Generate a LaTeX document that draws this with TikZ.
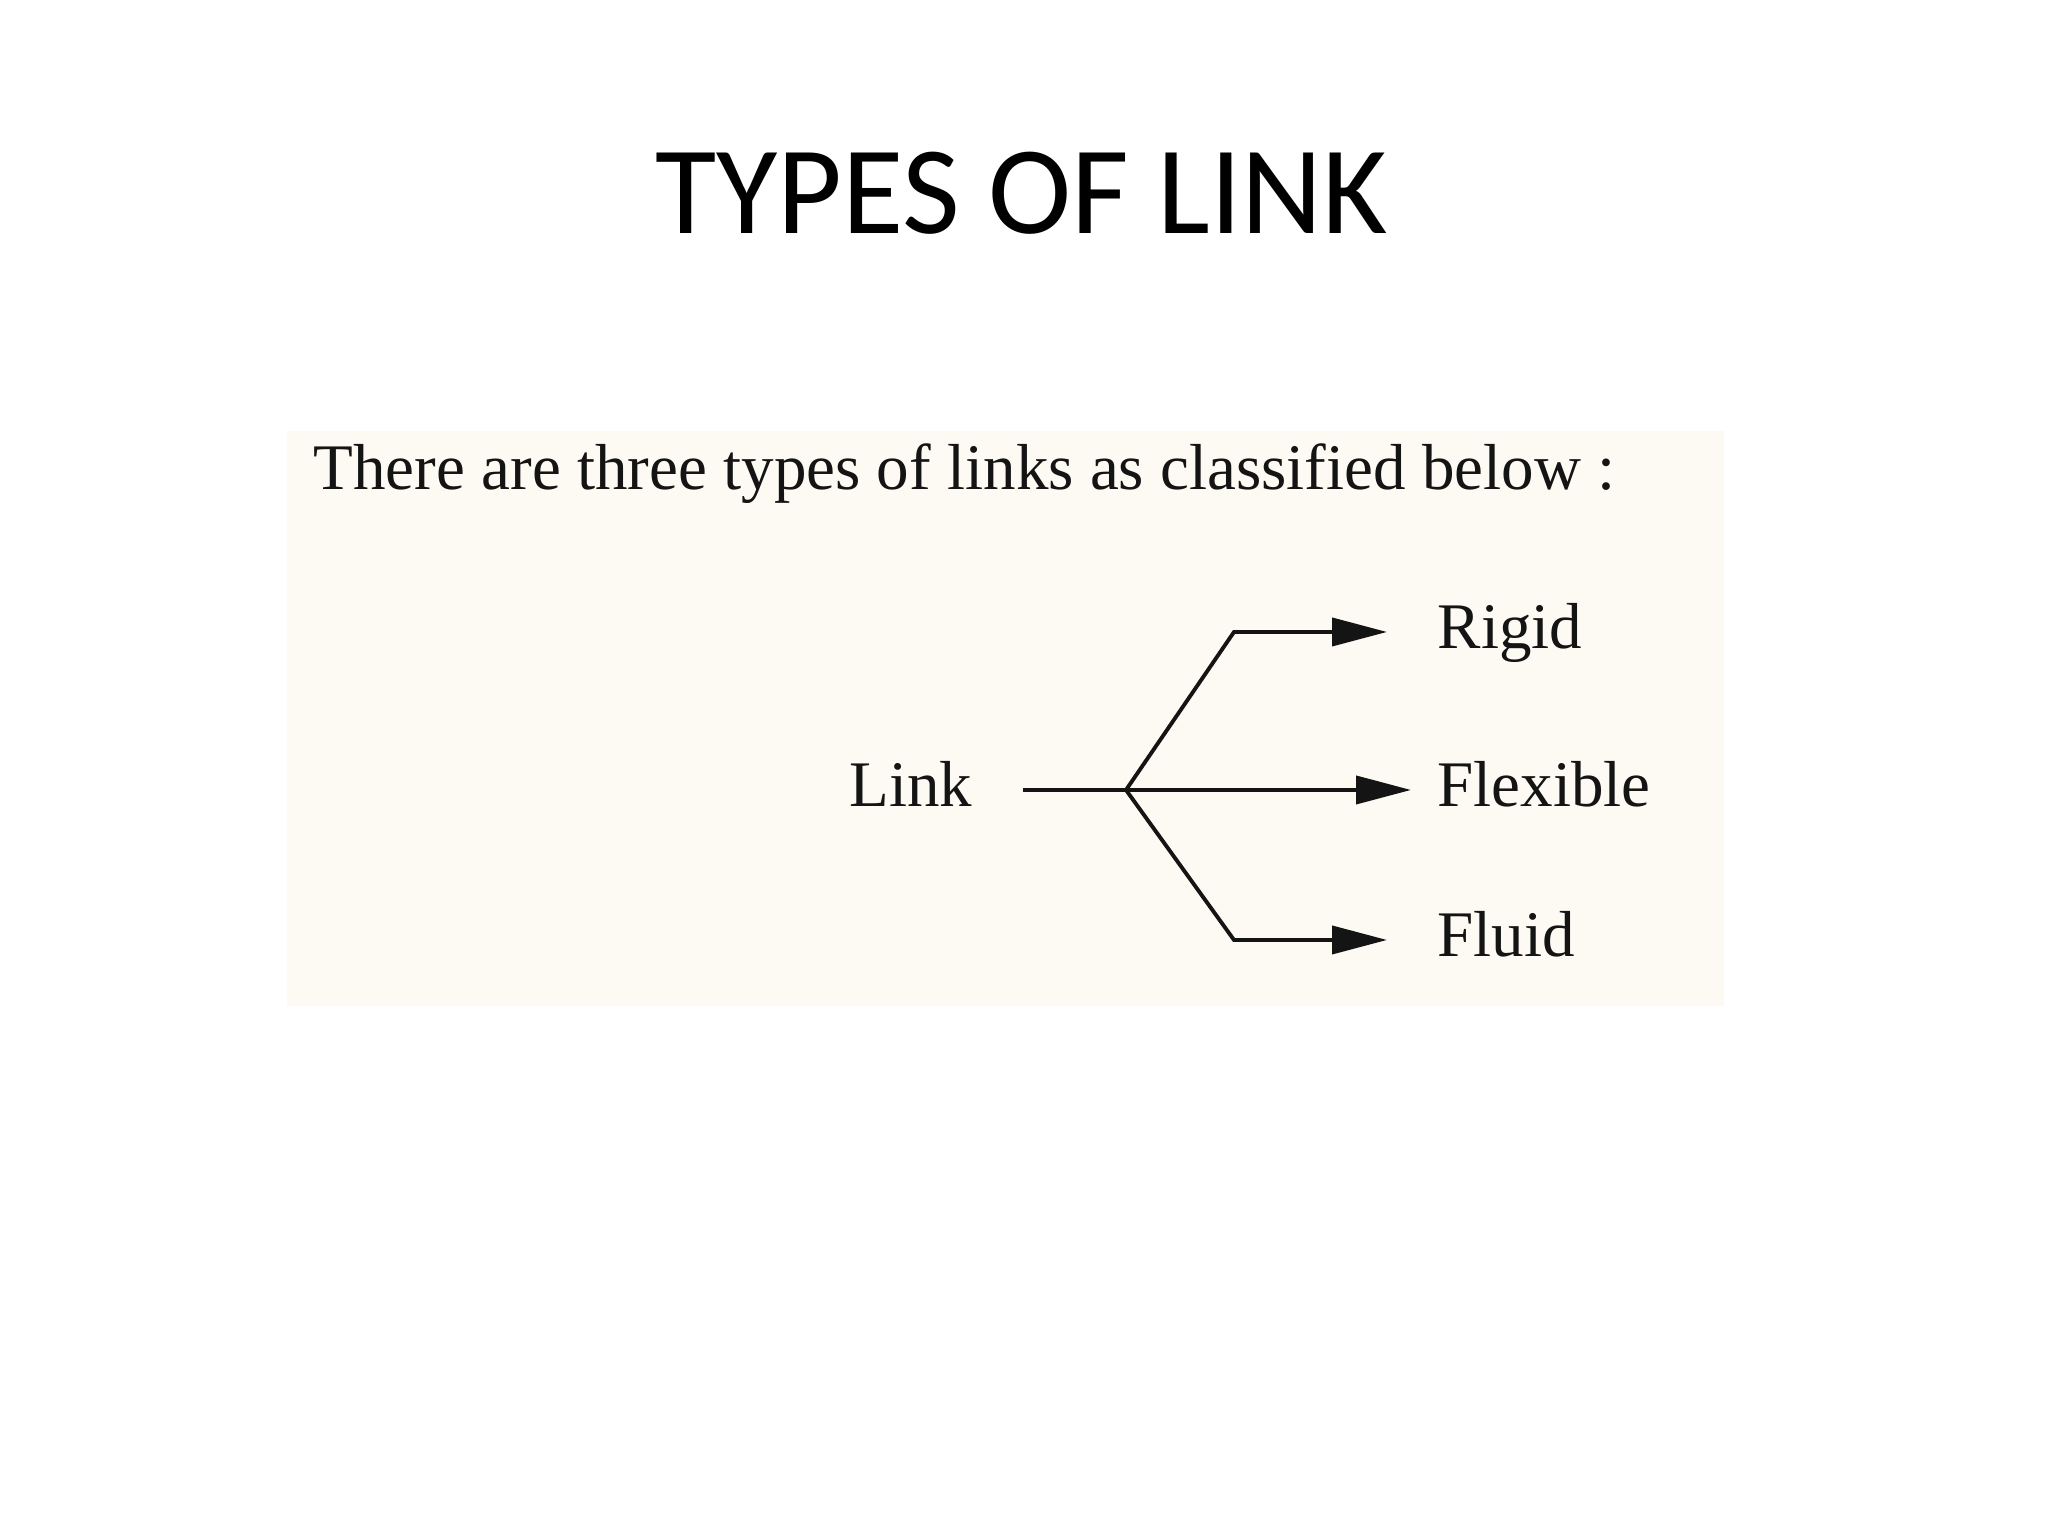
\documentclass[tikz,border=0pt]{standalone}
\usepackage{fontspec}
\setmainfont{Liberation Serif}
\newfontfamily\slidefont{Carlito}
\usetikzlibrary{positioning,arrows.meta}
\definecolor{pcream}{RGB}{252,250,242}
\definecolor{pink}{RGB}{20,20,20}

\begin{document}
\begin{tikzpicture}[
    kind/.style={inner sep=0pt, text=pink, font=\fontsize{18.5}{22}\selectfont},
    branch/.style={line width=1.1pt, draw=pink, -{Triangle[length=5.5mm,width=2.8mm]}}
]
    \useasboundingbox[fill=white] (0,0) rectangle (20.48,15.36);
    \fill[pcream] (2.87,5.30) rectangle (17.24,11.05);

    \node[font=\slidefont\fontsize{35.7}{42}\selectfont] (title) at (10.22,13.43) {TYPES OF LINK};
    \node[anchor=base west, inner sep=0pt, text=pink, font=\fontsize{18.5}{23}\selectfont] (intro) at (3.13,10.46)
        {There are three types of links as classified below :};

    \node[kind, anchor=mid east] (link) at (9.73,7.38) {Link};
    \node[kind, anchor=mid west] (flexible) at (14.37,7.38) {Flexible};
    \node[kind, anchor=mid west] (rigid) at (14.37,8.96) {Rigid};
    \node[kind, anchor=mid west] (fluid) at (14.37,5.88) {Fluid};

    \coordinate (fork) at (11.26,7.46);
    \coordinate (bendup) at (12.34,9.04);
    \coordinate (benddown) at (12.34,5.96);

    \draw[branch] ([xshift=5mm,yshift=0.8mm]link.mid east) -- ([xshift=-2.6mm,yshift=0.8mm]flexible.mid west);
    \draw[branch] (fork) -- (bendup) -- ([xshift=-5mm,yshift=0.8mm]rigid.mid west);
    \draw[branch] (fork) -- (benddown) -- ([xshift=-5mm,yshift=0.8mm]fluid.mid west);
\end{tikzpicture}
\end{document}
